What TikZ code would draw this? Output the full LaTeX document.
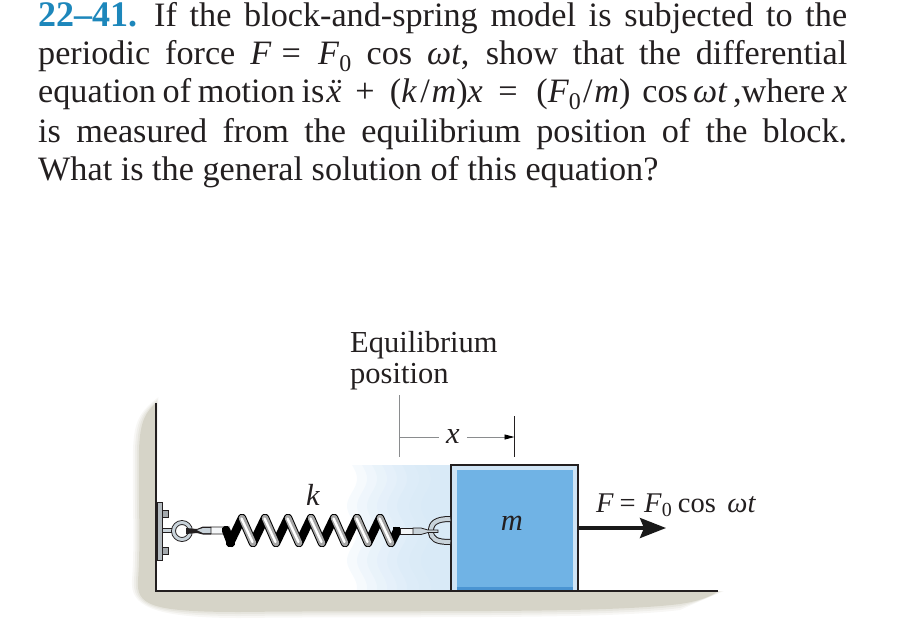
\documentclass[tikz,border=0pt]{standalone}
\usepackage{fontspec}
\setmainfont{Liberation Serif}
\usetikzlibrary{positioning, arrows.meta, calc}

\definecolor{inkdark}{HTML}{231F20}
\definecolor{numblue}{HTML}{1D87BB}
\definecolor{shadowgray}{HTML}{D6D4C8}
\definecolor{blockblue}{HTML}{70B3E5}
\definecolor{blockrim}{HTML}{CFE4F5}
\definecolor{blockedge}{HTML}{4A94D2}
\definecolor{dimgray}{HTML}{8A8C8E}
\definecolor{steel}{HTML}{C9D3DA}

\newcommand{\Fzero}{\textit{F}\textsubscript{0}}
\newcommand{\wt}{\textit{ωt}}

\begin{document}
\begin{tikzpicture}[
    x=1pt, y=-1pt,
    textline/.style={anchor=base west, inner sep=0pt, text=inkdark, font=\fontsize{34.2}{38}\selectfont},
    lbl/.style={anchor=base west, inner sep=0pt, text=inkdark, font=\fontsize{30.5}{32}\selectfont},
    dimline/.style={draw=dimgray, line width=0.9pt},
    coilback/.style={draw=black, line width=8.5pt, line cap=round},
    rod/.style={draw=inkdark, fill=steel, line width=0.8pt},
    force/.style={-{Stealth[length=26pt, width=20pt, inset=4pt]}, draw=black!90, line width=3.6pt}
]

    \useasboundingbox (0, 0) rectangle (897, 619);

    % Text of the problem
    \node[textline] (line1) at (38, 26) {\makebox[809pt][s]{\textcolor{numblue}{\fontsize{36}{38}\selectfont\textbf{22–41.}}\hspace{17pt}If the block-and-spring model is subjected to the}};
    \node[textline] (line2) at (38, 64) {\makebox[809pt][s]{periodic force \textit{F}\hspace{0.3em}=\hspace{0.5em}\Fzero{} cos \wt, show that the differential}};
    \node[textline] (line3) at (38, 102) {\makebox[809pt][s]{equation of motion is\hspace{2pt}\textit{\"x}\hspace{0.4em}+\hspace{0.45em}(\textit{k}\hspace{0.1em}/\hspace{0.05em}\textit{m})\textit{x}\hspace{0.45em}=\hspace{0.55em}(\Fzero\hspace{0.05em}/\hspace{0.05em}\textit{m})\hspace{0.35em}cos\hspace{0.15em}\wt\,,where \textit{x}}};
    \node[textline] (line4) at (38, 142) {\makebox[809pt][s]{is measured from the equilibrium position of the block.}};
    \node[textline] (line5) at (38, 180) {What is the general solution of this equation?};

    % Shadow of wall and floor
    \foreach \grow/\fade in {6/0.18, 4/0.25, 2/0.35, 0/1} {
        \fill[shadowgray, opacity=\fade] (156+\grow*0.4, 403-\grow) .. controls (146-\grow, 412) and (140-\grow, 420) .. (139-\grow, 450)
            .. controls (138-\grow, 500) and (141-\grow, 540) .. (138-\grow, 580)
            .. controls (136-\grow, 605) and (150, 612+\grow) .. (240, 612+\grow)
            .. controls (400, 610+\grow) and (600, 614+\grow) .. (680, 604+\grow)
            .. controls (700, 601) and (712, 596) .. (718+\grow, 591) -- (156, 591) -- cycle;
    }

    % Pale blue glow behind the spring
    \foreach \xs in {352, 362, 372, 382, 392, 402, 414, 426} {
        \fill[blockrim, opacity=0.18] plot[domain=465:591, samples=50, smooth] ({\xs+5*sin((\x-465)*6.6)}, \x) -- (451, 591) -- (451, 465) -- cycle;
    }

    % Wall and floor
    \draw[inkdark, line width=1.5pt] (156, 403) -- (156, 591) -- (718, 591);

    % Block
    \node[draw=inkdark, fill=blockrim, line width=1.5pt, minimum width=127pt, minimum height=126pt, inner sep=0pt] (block) at (514.5, 528) {};
    \node[fill=blockblue, minimum width=116pt, minimum height=117pt, inner sep=0pt] (face) at (515, 528.5) {};
    \fill[blockedge] (457, 586.5) rectangle (573, 590.2);
    \node[lbl, anchor=base] (mass) at (512, 530) {\textit{m}};

    % Wall plate and bolts
    \draw[rod, fill=steel!50!gray] (162, 510) rectangle (168, 517);
    \draw[rod, fill=steel!50!gray] (162, 547) rectangle (168, 554);
    \draw[rod, fill=steel!70!gray] (157, 502) rectangle (162, 560);
    \draw[rod] (162, 528.5) rectangle (173, 532);

    % Eye on the wall
    \node[circle, draw=inkdark, line width=4.8pt, minimum size=17pt, inner sep=0pt] (eye) at (182, 531) {};
    \node[circle, draw=steel, line width=3pt, minimum size=17pt, inner sep=0pt] (eyetop) at (182, 531) {};

    % Left end of the spring
    \fill[inkdark] (186, 528) -- (197, 529) -- (203, 526.5) -- (211, 526.5) -- (211, 534.5) -- (203, 534.5) -- (197, 533) -- (186, 534) -- cycle;
    \fill[steel] (197, 530) -- (203, 528) -- (211, 528) -- (211, 533) -- (203, 533) -- cycle;
    \draw[rod, fill=white!80!steel] (211, 527) -- (229, 527) -- (225, 534) -- (211, 534) -- cycle;

    % Spring, back strands first
    \draw[coilback] (226, 530) -- (231, 543);
    \foreach \i in {0,...,6} {
        \draw[coilback] ({230+23*\i}, 543) -- ({242+23*\i}, 518);
    }
    \draw[coilback] (391, 543) -- (397, 531);
    \foreach \i in {0,...,6} {
        \draw[black, line width=8.5pt, line cap=round] ({242+23*\i}, 518) -- ({253+23*\i}, 543);
        \draw[gray!70, line width=6.5pt, line cap=round] ({242+23*\i}, 518) -- ({253+23*\i}, 543);
        \draw[white, line width=2.4pt, line cap=round] ({241.5+23*\i}, 518.5) -- ({252.5+23*\i}, 542);
    }

    % Bracket on the block
    \draw[inkdark, line width=6pt] (block.west |- 0, 519) .. controls (436, 519) and (431, 523) .. (431, 531) .. controls (431, 539) and (436, 542) .. (block.west |- 0, 542);
    \draw[steel, line width=4pt] (block.west |- 0, 519) .. controls (436, 519) and (431, 523) .. (431, 531) .. controls (431, 539) and (436, 542) .. (block.west |- 0, 542);

    % Right end of the spring
    \fill[black] (393, 527) rectangle (400, 535);
    \draw[rod, fill=white!80!steel] (400, 528) rectangle (413, 534);
    \fill[steel, draw=inkdark, line width=0.8pt] (413, 528) -- (421, 528) -- (428, 530) -- (438, 530) -- (438, 532.5) -- (428, 532.5) -- (421, 534.5) -- (413, 534.5) -- cycle;

    % Labels
    \node[lbl] (equil) at (350, 352) {Equilibrium};
    \node[lbl] (posn) at (350, 383) {position};
    \node[lbl, anchor=base] (kay) at (313, 505) {\textit{k}};
    \node[lbl, font=\fontsize{28.5}{32}\selectfont] (forcelbl) at (596, 512) {\textit{F}\hspace{0.2em}=\hspace{0.3em}\Fzero\hspace{0.2em}cos\hspace{0.4em}\wt};

    % Displacement x
    \coordinate (eqtop) at (399, 395);
    \coordinate (eqbot) at (399, 457);
    \coordinate (xtop) at (514.5, 416);
    \coordinate (xbot) at (514.5, 457);
    \node[lbl, anchor=base, inner xsep=7pt] (xlbl) at (453, 443) {\textit{x}};
    \draw[dimline] (eqtop) -- (eqbot);
    \draw[inkdark, line width=0.9pt] (xtop) -- (xbot);
    \draw[dimline] (399, 437) -- (xlbl.west |- 0, 437);
    \draw[dimline, -{Stealth[length=10pt, width=5pt, inset=0pt, black]}] (xlbl.east |- 0, 437) -- (514.5, 437);

    % Applied force
    \coordinate (ftip) at (666, 528);
    \draw[force] (block.east) -- (ftip);

\end{tikzpicture}
\end{document}
